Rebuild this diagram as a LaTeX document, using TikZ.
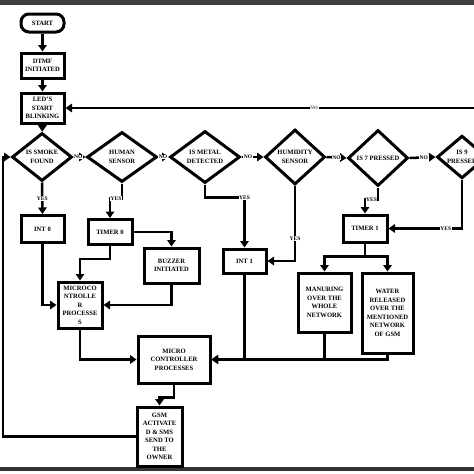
\documentclass[tikz,border=0pt]{standalone}
\usepackage{fontspec}
\setmainfont{Liberation Serif}
\usetikzlibrary{shapes.geometric,arrows.meta}

\begin{document}
\begin{tikzpicture}[x=1pt, y=-1pt,
    every node/.style={font=\bfseries\fontsize{6.6}{8.5}\selectfont, align=center},
    box/.style={draw, line width=3pt, inner sep=0pt},
    decision/.style={draw, diamond, line width=3pt, inner sep=0pt, minimum width=62pt, minimum height=50pt},
    arr/.style={line width=2.5pt, -{Triangle[length=6.5pt,width=8.5pt]}},
    lbl/.style={fill=white, inner sep=0.6pt, font=\bfseries\fontsize{5.5}{6}\selectfont}]
    \clip (0,0) rectangle (474,474);

    % Frame bands
    \fill[black!75] (0,0) rectangle (474,4.5);
    \fill[black!80] (0,467) rectangle (474,471);

    % Start of the chain
    \node[box, rounded corners=8pt, minimum width=43pt, minimum height=18pt] (start) at (42.5,23) {START};
    \node[box, minimum width=43pt, minimum height=25pt] (dtmf) at (42.5,65.5) {DTMF\\INITIATED};
    \node[box, minimum width=43pt, minimum height=30pt] (led) at (42.5,108) {LED'S\\START\\BLINKING};
    \draw[arr] (start) -- (dtmf);
    \draw[arr] (dtmf) -- (led);

    % Row of checks
    \node[decision, minimum width=60pt, minimum height=48pt] (smoke) at (42,157) {IS SMOKE\\FOUND};
    \node[decision, minimum width=70pt] (human) at (122,157) {HUMAN\\SENSOR};
    \node[decision, minimum width=70pt, minimum height=52pt] (metal) at (205,157) {IS METAL\\DETECTED};
    \node[decision, minimum width=60pt, minimum height=55pt] (humid) at (295,157) {HUMIDITY\\SENSOR};
    \node[decision, minimum width=60pt, minimum height=56pt] (seven) at (378,158) {IS 7 PRESSED};
    \node[decision, minimum width=50pt, minimum height=42pt] (nine) at (462,157) {IS 9\\PRESSED};
    \draw[arr] (led) -- (smoke);
    \draw[arr] (smoke.east) -- node[lbl, pos=0.4]{NO} (human.west);
    \draw[arr] (human.east) -- node[lbl, pos=0.45]{NO} (metal.west);
    \draw[arr] (metal.east) -- node[lbl, pos=0.3]{NO} (humid.west);
    \draw[arr] (humid.east) -- node[lbl, pos=0.5]{NO} (seven.west);
    \draw[arr] (seven.east) -- node[lbl, pos=0.55]{NO} (nine.west);

    % Way back to the LEDs
    \coordinate (backR) at (480,108);
    \draw[arr] (backR) -- node[lbl, pos=0.4, font=\bfseries\fontsize{5}{6}\selectfont, text=black!70]{NO} (led.east);

    % Smoke and human branches
    \node[box, minimum width=43pt, minimum height=27pt] (int0) at (42.5,229) {INT 0};
    \node[box, minimum width=44pt, minimum height=25pt] (timer0) at (110,232) {TIMER 0};
    \node[box, minimum width=55pt, minimum height=35pt] (buzzer) at (171.5,265.5) {BUZZER\\INITIATED};
    \node[box, minimum width=44pt, minimum height=46pt] (mcu1) at (80,305) {MICROCO\\NTROLLE\\R\\PROCESSE\\S};
    \draw[arr] (smoke.south) -- node[lbl]{YES} (int0.north);
    \draw[arr] (human.south) -- ++(0,15) -| node[lbl, pos=0.25]{YES} (timer0.north);
    \draw[arr] (timer0.east) -| (buzzer.north);
    \draw[arr] (timer0.south) -- ++(0,13) -| (mcu1.north);
    \draw[arr] (int0.south) |- (mcu1.west);
    \draw[arr] (buzzer.south) |- (mcu1.east);

    % Metal and humidity branches
    \node[box, minimum width=43pt, minimum height=24pt] (int1) at (244.5,261) {INT 1};
    \draw[arr] (metal.south) -- ++(0,13) -| node[lbl]{YES} (int1.north);
    \draw[arr] (humid.south) |- node[lbl, pos=0.35]{YES} (int1.east);

    % Key branches
    \node[box, minimum width=44pt, minimum height=27pt] (timer1) at (365,228.5) {TIMER 1};
    \node[box, minimum width=53pt, minimum height=59pt] (manure) at (324.5,302.5) {MANURING\\OVER THE\\WHOLE\\NETWORK};
    \node[box, minimum width=51pt, minimum height=80pt] (water) at (387.5,313) {WATER\\RELEASED\\OVER THE\\MENTIONED\\NETWORK\\OF GSM};
    \draw[arr] (seven.south) -- ++(0,12) -| node[lbl, pos=0.25]{YES} (timer1.north);
    \draw[arr] (nine.south) |- node[lbl, pos=0.61]{YES} (timer1.east);
    \draw[line width=2.5pt] (timer1.south) -- ++(0,13) coordinate (split);
    \draw[arr] (split) -| (manure.north);
    \draw[arr] (split) -| (water.north);

    % Main controller and GSM
    \node[box, minimum width=72pt, minimum height=47pt] (mcu2) at (174,359.5) {MICRO\\CONTROLLER\\PROCESSES};
    \node[box, minimum width=45pt, minimum height=59pt] (gsm) at (159.5,436.5) {GSM\\ACTIVATE\\D \& SMS\\SEND TO\\THE\\OWNER};
    \draw[arr] (mcu1.south) |- (mcu2.west);
    \draw[arr] (water.south) |- (mcu2.east);
    \draw[arr] (manure.south) |- (mcu2.east);
    \draw[arr] (int1.south) |- (mcu2.east);
    \draw[arr] (mcu2.south) -- ++(0,13) -| (gsm.north);

    % Loop back to the first check
    \coordinate (backL) at (3,436.5);
    \draw[arr] (gsm.west) -- (backL) |- (smoke.west);
\end{tikzpicture}
\end{document}
